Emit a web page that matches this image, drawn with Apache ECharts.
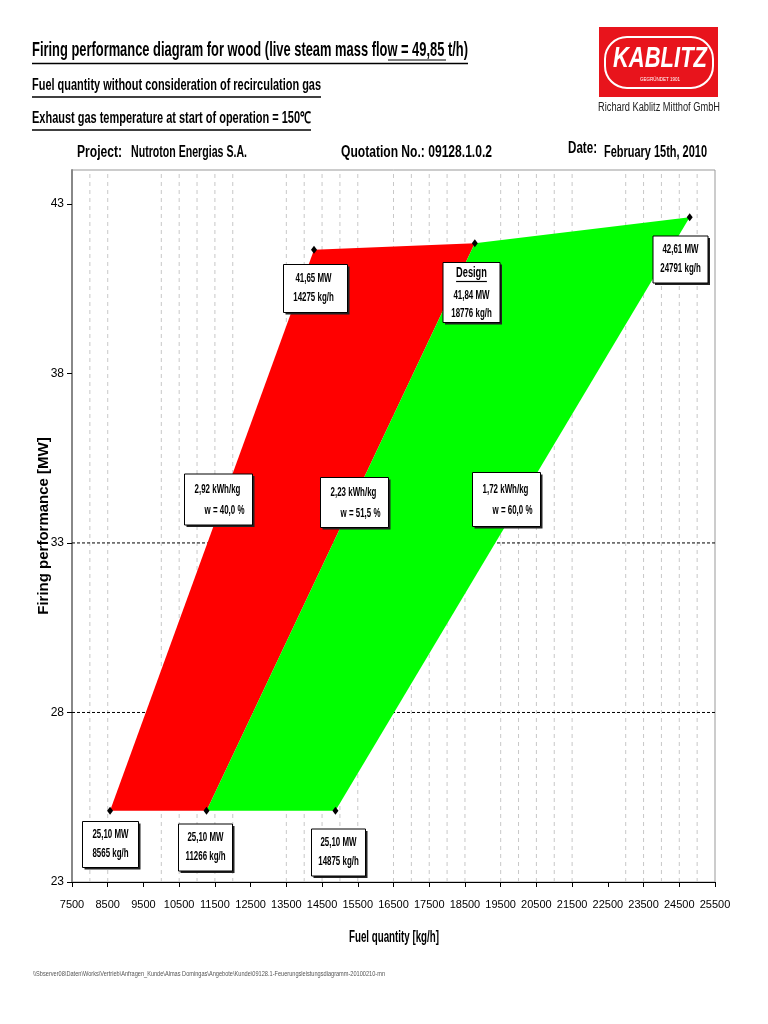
<!DOCTYPE html>
<html>
<head>
<meta charset="utf-8">
<script src="https://cdn.jsdelivr.net/npm/echarts@6/dist/echarts.min.js"></script>
<style>html,body{margin:0;padding:0;background:#fff}#chart{width:768px;height:1024px}</style>
</head>
<body>
<div id="chart"></div>
<script>
// ---------- DATA ----------
const xTicks = [7500, 8500, 9500, 10500, 11500, 12500, 13500, 14500, 15500, 16500, 17500, 18500, 19500, 20500, 21500, 22500, 23500, 24500, 25500];
const yTicks = [23, 28, 33, 38, 43];
const gridX = [8000, 8500, 10000, 10500, 11000, 11500, 12000, 13500, 14000, 14500, 15000, 15500, 16500, 17000, 17500, 18000, 18500, 19500, 20000, 20500, 21000, 21500, 23000, 23500, 24000, 24500, 25000];
const dottedY = [28, 33];
// polygons: [fuel kg/h, MW]
const redPolygon = [[8565, 25.10], [11266, 25.10], [18776, 41.84], [14275, 41.65]];
const greenPolygon = [[11266, 25.10], [14875, 25.10], [24791, 42.61], [18776, 41.84]];
const operatingPoints = [[8565, 25.10], [11266, 25.10], [14875, 25.10], [14275, 41.65], [18776, 41.84], [24791, 42.61]];
const designIndex = 4;
const heatingValues = ['2,92 kWh/kg', '2,23 kWh/kg', '1,72 kWh/kg'];
const moistures = ['w = 40,0 %', 'w = 51,5 %', 'w = 60,0 %'];
// anchor of each heating-value box, in data units
const heatingAnchors = [[11587, 34.31], [15394, 34.21], [19649, 34.30]];

// ---------- STYLE / LAYOUT ----------
const SANS = '"Liberation Sans", Arial, sans-serif';
const mctx = document.createElement('canvas').getContext('2d');
function fit(text, size, weight, width, style) {
  mctx.font = (style || 'normal') + ' ' + (weight || 'normal') + ' ' + size + 'px ' + SANS;
  return width / mctx.measureText(text).width;
}
const BOX_SCALE = 0.66;
const BOX_FONT = 12;
// per operating point: label offset [dx, dy] (px) and box size [w, h]
const pointBoxes = [
  {off: [0, 33], size: [56, 46]},
  {off: [-1.5, 36.5], size: [54, 47]},
  {off: [2.5, 41.5], size: [54, 47]},
  {off: [1, 38], size: [64, 48]},
  {off: [-3.5, 49], size: [57, 60]},
  {off: [-9.5, 41.5], size: [55, 47]}
];
const heatBoxSizes = [[68, 51], [68, 50], [68, 54]];

const fmtMW = v => v.toFixed(2).replace('.', ',') + ' MW';
const fmtKg = v => v + ' kg/h';

// build annotation boxes from data
const boxes = [];
operatingPoints.forEach((p, i) => {
  const b = pointBoxes[i];
  let lines;
  if (i === designIndex) {
    lines = [
      {text: 'Design', dx: 0, dy: -19, size: 14, ul: true},
      {text: fmtMW(p[1]), dx: 0, dy: 3, size: BOX_FONT},
      {text: fmtKg(p[0]), dx: 0, dy: 21, size: BOX_FONT}
    ];
  } else {
    lines = [
      {text: fmtMW(p[1]), dx: i === 3 ? -2 : 0, dy: -9.5, size: BOX_FONT},
      {text: fmtKg(p[0]), dx: i === 3 ? -2 : 0, dy: 9.5, size: BOX_FONT}
    ];
  }
  boxes.push({anchor: p, off: b.off, size: b.size, lines: lines});
});
heatingAnchors.forEach((a, i) => {
  boxes.push({anchor: a, off: [0, 0], size: heatBoxSizes[i], lines: [
    {text: heatingValues[i], dx: -1, dy: -10, size: BOX_FONT},
    {text: moistures[i], dx: 6, dy: 11, size: BOX_FONT}
  ]});
});

function polygonSeries(name, pts, color) {
  return {
    type: 'custom', name: name, z: 3, silent: true, data: pts, encode: {x: 0, y: 1},
    renderItem: function (params, api) {
      if (params.dataIndex !== 0) return null;
      return {type: 'polygon', shape: {points: pts.map(p => api.coord(p))}, style: {fill: color}};
    }
  };
}

const series = [];
gridX.forEach(x => series.push({
  type: 'line', silent: true, z: 1, symbol: 'none', data: [[x, 23], [x, 44]],
  lineStyle: {color: '#c8c8c8', width: 1, type: [4, 4]}
}));
dottedY.forEach(y => series.push({
  type: 'line', silent: true, z: 1, symbol: 'none', data: [[7500, y], [25500, y]],
  lineStyle: {color: '#000', width: 1, type: [3, 2]}
}));
series.push(polygonSeries('w = 40 %', redPolygon, '#ff0000'));
series.push(polygonSeries('w = 60 %', greenPolygon, '#00ff00'));
series.push({
  type: 'scatter', z: 5, silent: true, symbol: 'diamond', symbolSize: [6, 8],
  itemStyle: {color: '#000', opacity: 1}, data: operatingPoints
});
series.push({
  type: 'custom', z: 6, silent: true, clip: false,
  data: boxes.map(b => b.anchor), encode: {x: 0, y: 1},
  renderItem: function (params, api) {
    const b = boxes[params.dataIndex];
    const c = api.coord(b.anchor);
    const cx = Math.round(c[0] + b.off[0]) + 0.5, cy = Math.round(c[1] + b.off[1]) + 0.5;
    const w = b.size[0], h = b.size[1];
    const ch = [
      {type: 'rect', shape: {x: cx - w / 2 + 2, y: cy - h / 2 + 2, width: w, height: h}, style: {fill: '#222'}},
      {type: 'rect', shape: {x: cx - w / 2, y: cy - h / 2, width: w, height: h}, style: {fill: '#fff', stroke: '#000', lineWidth: 1}}
    ];
    b.lines.forEach(l => {
      ch.push({type: 'text', x: cx + l.dx, y: cy + l.dy, scaleX: BOX_SCALE,
        style: {text: l.text, fontFamily: SANS, fontSize: l.size, fontWeight: 'bold', fill: '#000', align: 'center', verticalAlign: 'middle'}});
      if (l.ul) {
        mctx.font = 'bold ' + l.size + 'px ' + SANS;
        const tw = mctx.measureText(l.text).width * BOX_SCALE;
        ch.push({type: 'line', shape: {x1: cx + l.dx - tw / 2, y1: cy + l.dy + 8, x2: cx + l.dx + tw / 2, y2: cy + l.dy + 8}, style: {stroke: '#000', lineWidth: 1.2}});
      }
    });
    return {type: 'group', children: ch};
  }
});

// header texts: [text, x, y, size, weight, target width]
const headerTexts = [
  ['Firing performance diagram for wood (live steam mass flow = 49,85 t/h)', 32, 50, 21, 'bold', 436],
  ['Fuel quantity without consideration of recirculation gas', 32, 86, 16, 'bold', 289],
  ['Exhaust gas temperature at start of operation = 150\u2103', 32, 119, 16, 'bold', 279],
  ['Project:', 77, 153, 16, 'bold', 45],
  ['Nutroton Energias S.A.', 131, 153, 16, 'bold', 116],
  ['Quotation No.: 09128.1.0.2', 341, 153, 16, 'bold', 151],
  ['Date:', 568, 149, 16, 'bold', 29],
  ['February 15th, 2010', 604, 153, 16, 'bold', 103]
];
const underlines = [[32, 468, 63.5, 1.5], [32, 321, 97, 1.5], [32, 311, 130, 1.5], [388, 446, 60, 1]];

const graphic = [];
headerTexts.forEach(t => {
  graphic.push({type: 'text', x: t[1], y: t[2], scaleX: fit(t[0], t[3], t[4], t[5]),
    style: {text: t[0], fontFamily: SANS, fontSize: t[3], fontWeight: t[4], fill: '#000', verticalAlign: 'middle', align: 'left'}});
});
underlines.forEach(u => graphic.push({type: 'line', shape: {x1: u[0], y1: u[2], x2: u[1], y2: u[2]}, style: {stroke: '#000', lineWidth: u[3]}}));
// logo
graphic.push({type: 'rect', shape: {x: 599, y: 27, width: 119, height: 70}, style: {fill: '#e8141c'}});
graphic.push({type: 'rect', shape: {x: 605, y: 37, width: 108, height: 51, r: 22}, style: {fill: 'none', stroke: '#fff', lineWidth: 2}});
graphic.push({type: 'text', x: 660, y: 59, scaleX: fit('KABLITZ', 29, 'bold', 94, 'italic'),
  style: {text: 'KABLITZ', fontFamily: SANS, fontSize: 29, fontWeight: 'bold', fontStyle: 'italic', fill: '#fff', align: 'center', verticalAlign: 'middle'}});
graphic.push({type: 'text', x: 660, y: 79, scaleX: fit('GEGRÜNDET 1901', 6, 'normal', 40),
  style: {text: 'GEGRÜNDET 1901', fontFamily: SANS, fontSize: 6, fill: '#fff', align: 'center', verticalAlign: 'middle'}});
graphic.push({type: 'text', x: 659, y: 108, scaleX: fit('Richard Kablitz Mitthof GmbH', 12, 'normal', 122),
  style: {text: 'Richard Kablitz Mitthof GmbH', fontFamily: SANS, fontSize: 12, fill: '#222', align: 'center', verticalAlign: 'middle'}});
// x axis title
graphic.push({type: 'text', x: 394, y: 938, scaleX: fit('Fuel quantity [kg/h]', 16, 'bold', 90),
  style: {text: 'Fuel quantity [kg/h]', fontFamily: SANS, fontSize: 16, fontWeight: 'bold', fill: '#000', align: 'center', verticalAlign: 'middle'}});
// footer path
const footer = '\\\\Sbserver08\\Daten\\Works\\Vertrieb\\Anfragen_Kunde\\Almas Domingas\\Angebote\\Kunde\\09128.1-Feuerungsleistungsdiagramm-20100210-mn';
graphic.push({type: 'text', x: 33, y: 974, scaleX: fit(footer, 7.5, 'normal', 352),
  style: {text: footer, fontFamily: SANS, fontSize: 7.5, fill: '#555', align: 'left', verticalAlign: 'middle'}});

const chart = echarts.init(document.getElementById('chart'), null, {renderer: 'canvas'});
chart.setOption({
  backgroundColor: '#fff',
  animation: false,
  grid: {left: 72, right: 53, top: 170, bottom: 142, show: true, borderColor: '#999', borderWidth: 1, backgroundColor: 'transparent'},
  xAxis: {
    type: 'value', min: 7500, max: 25500,
    axisLine: {show: true, lineStyle: {color: '#000', width: 1}},
    axisTick: {show: true, length: 5, customValues: xTicks, lineStyle: {color: '#000'}},
    axisLabel: {customValues: xTicks, formatter: v => String(v), showMinLabel: true, showMaxLabel: true,
      fontFamily: SANS, fontSize: 11, color: '#000', margin: 17},
    splitLine: {show: false}
  },
  yAxis: {
    type: 'value', min: 23, max: 44,
    name: 'Firing performance [MW]', nameLocation: 'middle', nameGap: 21, nameRotate: 90, nameMoveOverlap: false,
    nameTextStyle: {fontFamily: SANS, fontSize: 15, fontWeight: 'bold', color: '#000'},
    axisLine: {show: true, lineStyle: {color: '#888', width: 2}},
    axisTick: {show: true, length: 5, customValues: yTicks, lineStyle: {color: '#000'}},
    axisLabel: {customValues: yTicks, formatter: v => String(v), fontFamily: SANS, fontSize: 12, color: '#000', margin: 8},
    splitLine: {show: false}
  },
  graphic: graphic,
  series: series
});
</script>
</body>
</html>
